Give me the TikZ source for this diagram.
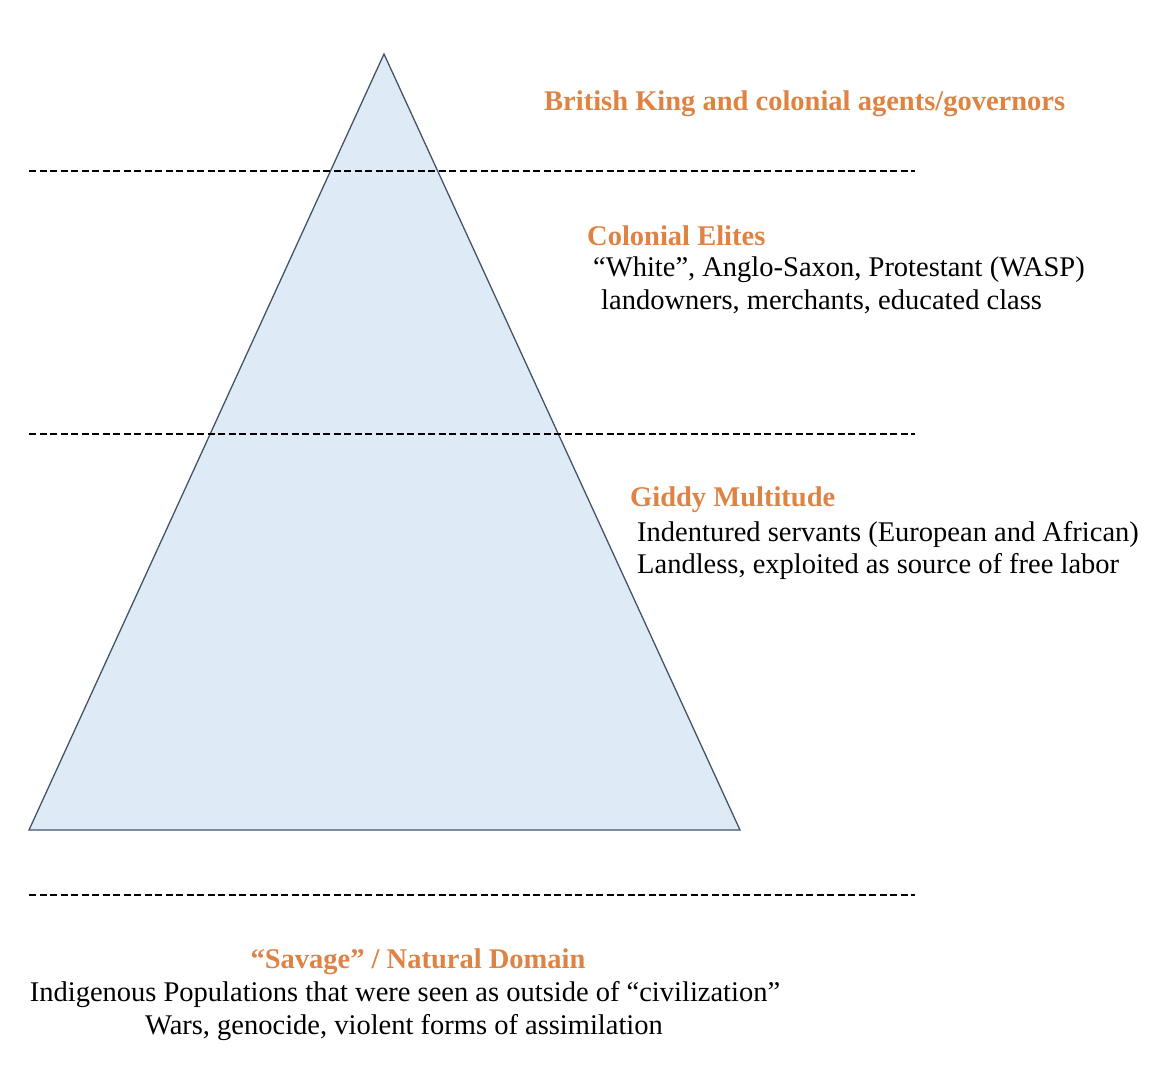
\documentclass[tikz,border=0pt]{standalone}
\usepackage{fontspec}
\setmainfont{Liberation Serif}
\definecolor{hdr}{RGB}{222,131,68}
\definecolor{trifill}{RGB}{222,234,246}
\definecolor{triline}{RGB}{68,84,106}
\begin{document}
\begin{tikzpicture}[x=1pt,y=-1pt,
  hd/.style={anchor=west,inner sep=0pt,text=hdr,font=\fontsize{28.5}{33}\selectfont\bfseries},
  tx/.style={anchor=west,inner sep=0pt,font=\fontsize{28.5}{33}\selectfont},
  sep/.style={dash pattern=on 7pt off 3.5pt,line width=1.3pt}]
\useasboundingbox (0,0) rectangle (1154,1078);
\coordinate (apex) at (384,54);
\coordinate (bl) at (29,830);
\coordinate (br) at (740,830);
\filldraw[fill=trifill,draw=triline,line width=1.3pt] (apex) -- (br) -- (bl) -- cycle;
\foreach \y/\n in {171/a,434/b,895/c}{
  \coordinate (\n l) at (29,\y); \coordinate (\n r) at (915,\y);
  \draw[sep] (\n l) -- (\n r);}
\node[hd] (h1) at (544,104) {British King and colonial agents/governors};
\node[hd] (h2) at (587,236) {Colonial Elites};
\node[tx] (t21) at (593,270) {“White”, Anglo-Saxon, Protestant (WASP)};
\node[tx] (t22) at (601,302) {landowners, merchants, educated class};
\node[hd] (h3) at (630,500) {Giddy Multitude};
\node[tx] (t31) at (637,534) {Indentured servants (European and African)};
\node[tx] (t32) at (637,566) {Landless, exploited as source of free labor};
\node[hd,anchor=center] (h4) at (418,962) {“Savage” / Natural Domain};
\node[tx,anchor=center] (t41) at (405,995) {Indigenous Populations that were seen as outside of “civilization”};
\node[tx,anchor=center] (t42) at (404,1028) {Wars, genocide, violent forms of assimilation};
\end{tikzpicture}
\end{document}
